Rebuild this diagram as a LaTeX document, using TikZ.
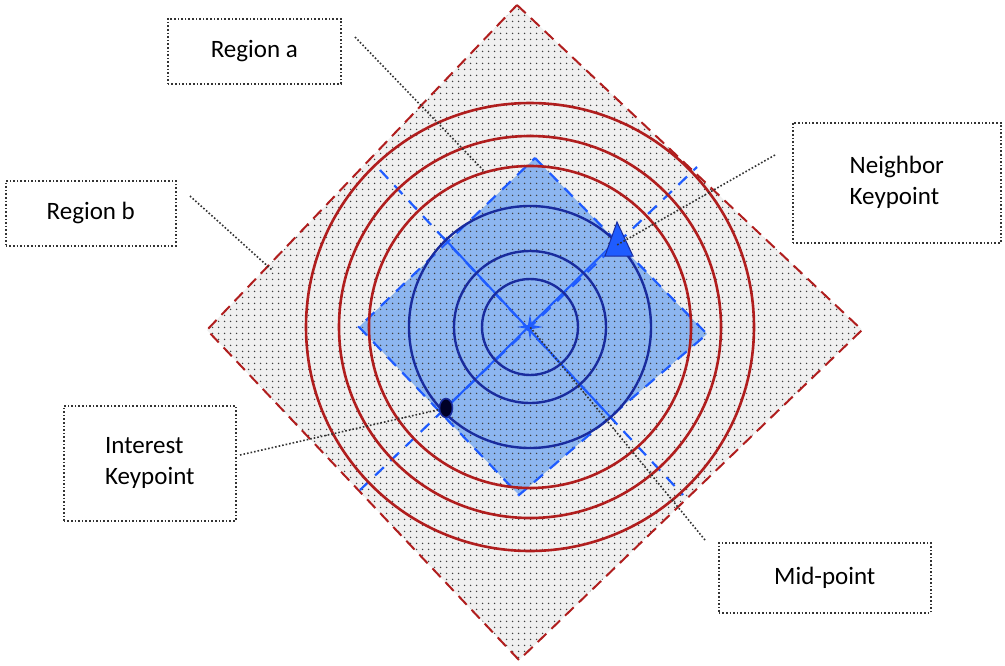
\documentclass[tikz,border=0pt]{standalone}
\usepackage{fontspec}
\setmainfont{Carlito}
\usetikzlibrary{patterns,shapes.geometric}
\pgfdeclarepatternformonly{mydots}{\pgfpointorigin}{\pgfpoint{6pt}{6pt}}{\pgfpoint{6pt}{6pt}}{\pgfpathcircle{\pgfpoint{3pt}{3pt}}{0.95pt}\pgfusepath{fill}}
\definecolor{dred}{HTML}{B01E1E}
\definecolor{dblue}{HTML}{1A2C9E}
\definecolor{lblue}{HTML}{1F5CFF}
\definecolor{fblue}{HTML}{8DB6F0}
\tikzset{x=1pt,y=-1pt,
 lbox/.style={draw=black!80, dotted, line width=1.6pt, inner sep=0pt, align=left, font=\fontsize{25}{31}\selectfont, text=black},
 leader/.style={draw=black!80, dotted, line width=1.6pt},
 redc/.style={draw=dred, line width=2.6pt},
 bluec/.style={draw=dblue, line width=2.4pt},
 bdash/.style={draw=lblue, line width=2.2pt, dash pattern=on 12pt off 9pt},
 bsolid/.style={draw=lblue, line width=2pt}}
\begin{document}
\begin{tikzpicture}
\useasboundingbox (0,0) rectangle (1005,665);
\fill[white] (0,0) rectangle (1005,665);
\coordinate (c) at (530,327);
% outer diamond
\fill[gray!12] (517,5) -- (862,330) -- (519,660) -- (207,330) -- cycle;
\fill[fblue] (535,158) -- (707,334) -- (519,495) -- (359,327) -- cycle;
\fill[pattern=mydots, pattern color=black!75] (517,5) -- (862,330) -- (519,660) -- (207,330) -- cycle;
\draw[dred, line width=2pt, dash pattern=on 12pt off 7pt] (517,5) -- (862,330) -- (519,660) -- (207,330) -- cycle;
\draw[bdash] (535,158) -- (707,334) -- (519,495) -- (359,327) -- cycle;
% diagonals
\draw[bdash] (380,170) -- (683,495);
\draw[bdash] (360,490) -- (697,167);
\draw[bsolid] (443,237) -- (615,422);
\draw[bsolid] (447,407) -- (617,240);
% circles
\foreach \r in {161,191,224} \draw[redc] (c) circle (\r);
\foreach \r in {48,76,121} \draw[bluec] (c) circle (\r);
% midpoint star
\fill[lblue] (530,314) -- (532,325) -- (543,327) -- (532,329) -- (530,340) -- (528,329) -- (517,327) -- (528,325) -- cycle;
\coordinate (mid) at (530,327);
% keypoints
\node (ik) [ellipse, draw=dblue, fill=black!85!blue, line width=1.5pt, minimum width=13pt, minimum height=19pt, inner sep=0pt] at (446,408) {};
\fill[lblue, draw=dblue, line width=1pt] (617,222) -- (633,256) -- (605,256) -- cycle;
\coordinate (nk) at (617,245);
% label boxes
\node (ra) [lbox, minimum width=173pt, minimum height=65pt, anchor=north west] at (167,18) {Region a};
\node (rb) [lbox, minimum width=170pt, minimum height=65pt, anchor=north west] at (5,180) {Region b};
\node (nb) [lbox, minimum width=208pt, minimum height=120pt, anchor=north west] at (792,122) {Neighbor\\Keypoint};
\node (ib) [lbox, minimum width=172pt, minimum height=115pt, anchor=north west] at (63,405) {Interest\\Keypoint};
\node (mp) [lbox, minimum width=212pt, minimum height=70pt, anchor=north west] at (718,542) {Mid-point};
\coordinate (ae) at (485,172);
\coordinate (be) at (272,270);
\draw[leader] (355,37) -- (ae);
\draw[leader] (190,196) -- (be);
\draw[leader] (775,155) -- (nk);
\draw[leader] (240,455) -- (ik);
\draw[leader] (705,540) -- (mid);
\end{tikzpicture}
\end{document}
